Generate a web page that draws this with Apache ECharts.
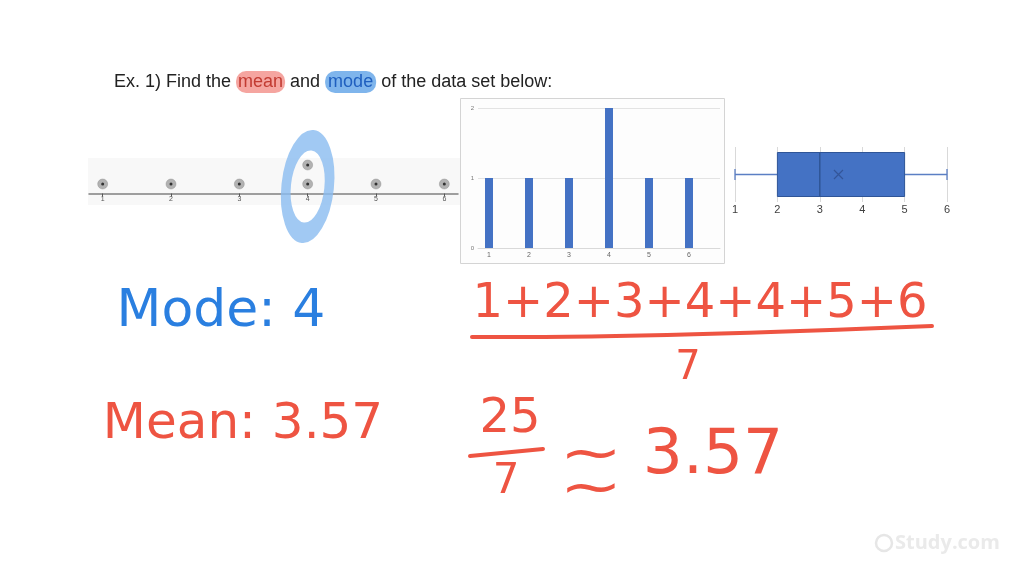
<!DOCTYPE html>
<html><head><meta charset="utf-8">
<script src="https://cdn.jsdelivr.net/npm/echarts@6/dist/echarts.min.js"></script>
<style>html,body{margin:0;padding:0;background:#fff}#c{width:1024px;height:576px}</style>
</head><body><div id="c"></div>
<script>
// ---- data ----
var dotValues = [1, 2, 3, 4, 4, 5, 6];
var tickValues = [1, 2, 3, 4, 5, 6];
var barCategories = [1, 2, 3, 4, 5, 6];
var barCounts = [1, 1, 1, 2, 1, 1];
var boxStats = [1, 2, 3, 5, 6]; // min, Q1, median(as drawn), Q3, max
var boxMean = 3.44;
var modeValue = 4;

// stack dots
var seen = {};
var dotData = dotValues.map(function (v) { seen[v] = (seen[v] || 0) + 1; return [v, seen[v]]; });
var barData = barCategories.map(function (c, i) { return [c, barCounts[i]]; });

var red = '#ee5442', blue = '#2a7fe0';
var hand = 'DejaVu Sans';

var chart = echarts.init(document.getElementById('c'));
chart.setOption({
  backgroundColor: '#fff',
  animation: false,
  grid: [
    { left: 89, top: 146, width: 369, height: 47.5 },
    { left: 478, top: 108, width: 242, height: 140 },
    { left: 735, top: 147, width: 212, height: 55 }
  ],
  xAxis: [
    { gridIndex: 0, type: 'value', min: 0.8, max: 6.2,
      axisLine: { lineStyle: { color: '#808080', width: 1.5 } },
      axisTick: { show: true, customValues: tickValues, length: 3, lineStyle: { color: '#555' } },
      axisLabel: { customValues: tickValues, fontSize: 7, color: '#555', margin: 2 },
      splitLine: { show: false } },
    { gridIndex: 1, type: 'value', min: 0.725, max: 6.775,
      axisLine: { show: true, lineStyle: { color: '#d9d9d9' } },
      axisTick: { show: false },
      axisLabel: { customValues: barCategories, fontSize: 7, color: '#666', margin: 4 },
      splitLine: { show: false } },
    { gridIndex: 2, type: 'value', min: 1, max: 6, interval: 1,
      axisLine: { show: false }, axisTick: { show: false },
      axisLabel: { fontSize: 11, color: '#404040', margin: 2, fontFamily: 'Liberation Sans' },
      splitLine: { show: true, lineStyle: { color: '#d9d9d9' } } }
  ],
  yAxis: [
    { gridIndex: 0, type: 'value', min: 0.5, max: 3, show: false },
    { gridIndex: 1, type: 'value', min: 0, max: 2, interval: 1,
      axisLine: { show: false }, axisTick: { show: false },
      axisLabel: { fontSize: 6, color: '#777', margin: 4 },
      splitLine: { lineStyle: { color: '#e3e3e3' } } },
    { gridIndex: 2, type: 'value', min: -1, max: 1, show: false }
  ],
  series: [
    { type: 'scatter', xAxisIndex: 0, yAxisIndex: 0, data: dotData, symbolSize: 10,
      itemStyle: { color: '#a0a0a0', borderColor: '#8a8a8a', borderWidth: 0.5 }, z: 3 },
    { type: 'scatter', xAxisIndex: 0, yAxisIndex: 0, data: dotData, symbolSize: 3,
      itemStyle: { color: '#111' }, z: 4 },
    { type: 'scatter', xAxisIndex: 0, yAxisIndex: 0, data: [[modeValue, 0.87]], clip: false,
      symbol: 'circle', symbolSize: [43, 93], symbolRotate: -6,
      itemStyle: { color: 'rgba(0,0,0,0)', borderColor: '#8abbf0', borderWidth: 14 }, z: 5, silent: true },
    { type: 'bar', xAxisIndex: 1, yAxisIndex: 1, data: barData, barWidth: 8,
      itemStyle: { color: '#4472c4' } },
    { type: 'custom', xAxisIndex: 2, yAxisIndex: 2, data: [boxStats],
      renderItem: function (params, api) {
        var p = [0, 1, 2, 3, 4].map(function (i) { return api.coord([api.value(i), 0]); });
        var h = 22, cap = 5.5, y = p[0][1];
        var ws = { stroke: '#5b7fc4', lineWidth: 1.3 };
        return { type: 'group', children: [
          { type: 'line', shape: { x1: p[0][0], y1: y, x2: p[1][0], y2: y }, style: ws },
          { type: 'line', shape: { x1: p[3][0], y1: y, x2: p[4][0], y2: y }, style: ws },
          { type: 'line', shape: { x1: p[0][0], y1: y - cap, x2: p[0][0], y2: y + cap }, style: ws },
          { type: 'line', shape: { x1: p[4][0], y1: y - cap, x2: p[4][0], y2: y + cap }, style: ws },
          { type: 'rect', shape: { x: p[1][0], y: y - h, width: p[3][0] - p[1][0], height: 2 * h },
            style: { fill: '#4472c4', stroke: '#2f5597', lineWidth: 1 } },
          { type: 'line', shape: { x1: p[2][0], y1: y - h, x2: p[2][0], y2: y + h },
            style: { stroke: '#2f5597', lineWidth: 1.5 } }
        ] };
      } },
    { type: 'scatter', xAxisIndex: 2, yAxisIndex: 2, data: [[boxMean, 0]], symbol: 'path://M0,0L10,10M10,0L0,10',
      symbolSize: 9, itemStyle: { color: 'rgba(0,0,0,0)', borderColor: '#2f4f8f', borderWidth: 1.2 }, z: 5 }
  ],
  graphic: [
    { type: 'rect', z: -10, shape: { x: 88, y: 158, width: 372, height: 47 }, style: { fill: '#f8f8f8' } },
    { type: 'rect', z: -10, shape: { x: 460.5, y: 98.5, width: 264, height: 165 }, style: { fill: '#fdfdfd', stroke: '#d4d4d4', lineWidth: 1 } },
    { type: 'text', x: 114, y: 82, style: {
        text: 'Ex. 1) Find the {m|mean} and {d|mode} of the data set below:',
        font: '18px "Liberation Sans"', fill: '#222', verticalAlign: 'middle',
        rich: {
          m: { font: '18px "Liberation Sans"', fill: '#c23b32', backgroundColor: '#f5a5a0', borderRadius: 10, padding: [2, 2] },
          d: { font: '18px "Liberation Sans"', fill: '#1f5fbf', backgroundColor: '#7fb5ec', borderRadius: 10, padding: [2, 3] }
        } } },
    { type: 'text', x: 221, y: 312, style: { text: 'Mode: 4', font: '52px "' + hand + '"', fill: blue, align: 'center', verticalAlign: 'middle' } },
    { type: 'text', x: 243, y: 425, style: { text: 'Mean: 3.57', font: '50px "' + hand + '"', fill: red, align: 'center', verticalAlign: 'middle' } },
    { type: 'text', x: 700, y: 305, style: { text: '1+2+3+4+4+5+6', font: '48px "' + hand + '"', fill: red, align: 'center', verticalAlign: 'middle' } },
    { type: 'bezierCurve', shape: { x1: 472, y1: 337, x2: 932, y2: 326, cpx1: 650, cpy1: 338 }, style: { stroke: red, lineWidth: 4, lineCap: 'round', fill: 'none' } },
    { type: 'text', x: 688, y: 369, style: { text: '7', font: '40px "' + hand + '"', fill: red, align: 'center', verticalAlign: 'middle' } },
    { type: 'text', x: 510, y: 420, style: { text: '25', font: '48px "' + hand + '"', fill: red, align: 'center', verticalAlign: 'middle' } },
    { type: 'line', shape: { x1: 470, y1: 456, x2: 543, y2: 449 }, style: { stroke: red, lineWidth: 4, lineCap: 'round' } },
    { type: 'text', x: 506, y: 482, style: { text: '7', font: '42px "' + hand + '"', fill: red, align: 'center', verticalAlign: 'middle' } },
    { type: 'text', x: 591, y: 456, scaleX: 1.35, style: { text: '~', font: '56px "' + hand + '"', fill: red, align: 'center', verticalAlign: 'middle' } },
    { type: 'text', x: 591, y: 490, scaleX: 1.35, style: { text: '~', font: '56px "' + hand + '"', fill: red, align: 'center', verticalAlign: 'middle' } },
    { type: 'text', x: 713, y: 457, style: { text: '3.57', font: '63px "' + hand + '"', fill: red, align: 'center', verticalAlign: 'middle' } },
    { type: 'circle', shape: { cx: 884, cy: 543, r: 8 }, style: { fill: 'none', stroke: '#e6e6e6', lineWidth: 2.5 } },
    { type: 'text', x: 895, y: 543, style: { text: 'Study.com', font: 'bold 20px "Open Sans"', fill: '#eaeaea', verticalAlign: 'middle' } }
  ]
});
</script></body></html>
